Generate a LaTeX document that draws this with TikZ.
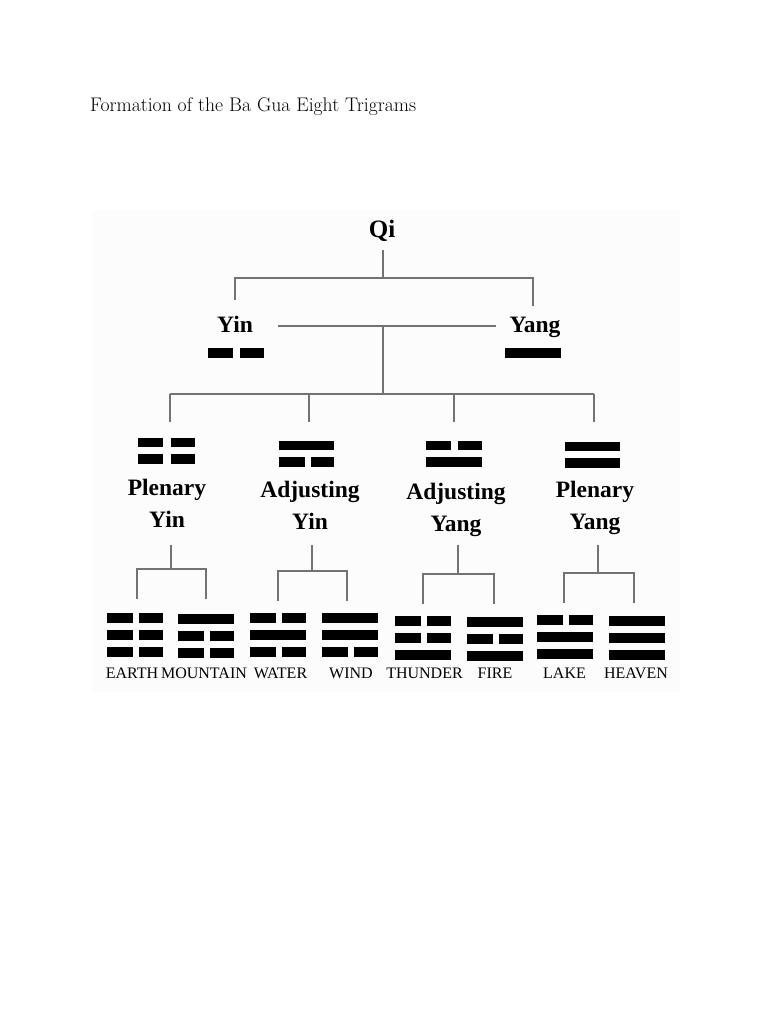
\documentclass[tikz,border=0pt]{standalone}
\usepackage{fontspec}
\newfontfamily\tnr{Liberation Serif}
\newcommand\trigram[3]{%
  \foreach \t [count=\i from 0] in {#3}{%
    \ifnum\t=1
      \fill (#1,#2+17*\i) rectangle ++(56,10);
    \else
      \fill (#1,#2+17*\i) rectangle ++(26,10);
      \fill (#1+32,#2+17*\i) rectangle ++(24,10);
    \fi
  }}
\begin{document}
\begin{tikzpicture}[x=1pt,y=-1pt,
  conn/.style={draw=black!55,line width=1.2pt},
  big/.style={font=\tnr\bfseries\fontsize{23.5}{28}\selectfont, anchor=base, inner sep=0pt},
  lab/.style={font=\tnr\fontsize{16}{16}\selectfont, anchor=base, inner sep=0pt},
]
\useasboundingbox[fill=white] (0,0) rectangle (768,1024);
\fill[black!1] (92,210) rectangle (680,692);

\node[anchor=base west, inner sep=0pt, font=\fontsize{19.7}{20}\selectfont] (title) at (90,112) {Formation of the Ba Gua Eight Trigrams};

% level 0
\node[big, font=\tnr\bfseries\fontsize{25}{30}\selectfont] (qi) at (382,237) {Qi};
\coordinate (qiB) at (383,250);
\coordinate (j1) at (383,278);
\coordinate (j1L) at (235,278);
\coordinate (j1R) at (533,278);
\coordinate (yinT) at (235,300);
\coordinate (yangT) at (533,306);
\draw[conn] (qiB) -- (j1);
\draw[conn] (yinT) -- (j1L) -- (j1R) -- (yangT);

% level 1
\node[big] (yin) at (235,332) {Yin};
\node[big] (yang) at (535,332) {Yang};
\fill (208,348) rectangle (233,358);
\fill (240,348) rectangle (264,358);
\fill (505,348) rectangle (561,358);
\coordinate (yl) at (278,326);
\coordinate (yr) at (496,326);
\coordinate (j2) at (383,326);
\coordinate (j3) at (383,394);
\draw[conn] (yl) -- (yr);
\draw[conn] (j2) -- (j3);
\coordinate (h1) at (170,394);
\coordinate (h2) at (594,394);
\draw[conn] (h1) -- (h2);
\foreach \x/\n in {170/a,309/b,454/c,594/d}{
  \coordinate (t\n) at (\x,394);
  \coordinate (b\n) at (\x,422);
  \draw[conn] (t\n) -- (b\n);
}

% level 2 bigrams
\fill (138,438) rectangle (163,447); \fill (171,438) rectangle (195,447);
\fill (138,454) rectangle (163,464); \fill (171,454) rectangle (195,464);
\fill (279,441) rectangle (334,450);
\fill (279,457) rectangle (305,467); \fill (311,457) rectangle (334,467);
\fill (426,441) rectangle (451,450); \fill (458,441) rectangle (482,450);
\fill (426,457) rectangle (482,467);
\fill (565,442) rectangle (620,451);
\fill (565,458) rectangle (620,468);

\node[big] (py1) at (167,495) {Plenary};
\node[big] (py2) at (167,527) {Yin};
\node[big] (ay1) at (310,497) {Adjusting};
\node[big] (ay2) at (310,529) {Yin};
\node[big] (ag1) at (456,499) {Adjusting};
\node[big] (ag2) at (456,531) {Yang};
\node[big] (pg1) at (595,497) {Plenary};
\node[big] (pg2) at (595,529) {Yang};

% level 3 connectors
\foreach \n/\c/\y/\l/\r/\d in {p/171/569/137/206/599, q/312/571/278/347/601, r/458/574/423/494/604, s/598/573/564/634/603}{
  \coordinate (\n0) at (\c,545);
  \coordinate (\n1) at (\c,\y);
  \coordinate (\n L) at (\l,\y);
  \coordinate (\n R) at (\r,\y);
  \coordinate (\n LB) at (\l,\d);
  \coordinate (\n RB) at (\r,\d);
  \draw[conn] (\n0) -- (\n1);
  \draw[conn] (\n LB) -- (\n L) -- (\n R) -- (\n RB);
}

% trigrams
\trigram{107}{613}{0,0,0}
\trigram{178}{614}{1,0,0}
\trigram{250}{613}{0,1,0}
\trigram{322}{613}{1,1,0}
\trigram{395}{616}{0,0,1}
\trigram{467}{617}{1,0,1}
\trigram{537}{615}{0,1,1}
\trigram{609}{616}{1,1,1}

\node[lab] (earth) at (132,678) {EARTH};
\node[lab] (mountain) at (204,678) {MOUNTAIN};
\node[lab] (water) at (280.5,678) {WATER};
\node[lab] (wind) at (351,678) {WIND};
\node[lab] (thunder) at (424.5,678) {THUNDER};
\node[lab] (fire) at (495,678) {FIRE};
\node[lab] (lake) at (564.5,678) {LAKE};
\node[lab] (heaven) at (636,678) {HEAVEN};
\end{tikzpicture}
\end{document}
